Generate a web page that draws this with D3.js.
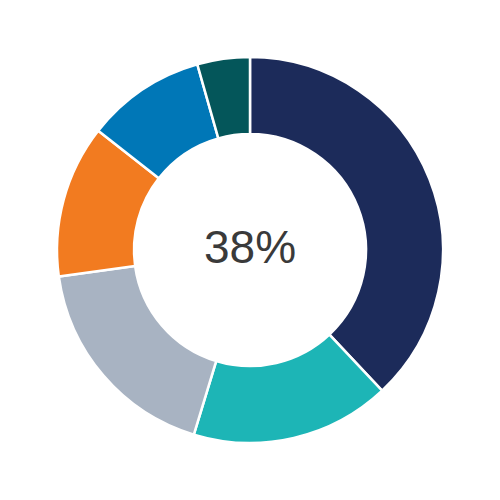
<!DOCTYPE html>
<html>
<head>
<meta charset="utf-8">
<script src="https://cdn.jsdelivr.net/npm/d3@7"></script>
<style>
  body { margin: 0; background: #fff; }
</style>
</head>
<body>
<div id="chart"></div>
<script>
var categories = ["A", "B", "C", "D", "E", "F"];
var values = [38, 16.7, 18.1, 12.8, 10, 4.4];
var colors = ["#1c2b5a", "#1db5b6", "#a8b3c2", "#f27b20", "#0077b7", "#04565a"];
var centerLabel = "38%";

var width = 500, height = 500;
var outerR = 193, innerR = 116;

var svg = d3.select("#chart")
  .append("svg")
  .attr("width", width)
  .attr("height", height);

var g = svg.append("g")
  .attr("transform", `translate(${width / 2},${height / 2})`);

var pie = d3.pie()
  .sort(null)
  .value(function(d) { return d; });

var arc = d3.arc()
  .innerRadius(innerR)
  .outerRadius(outerR);

g.selectAll("path")
  .data(pie(values))
  .enter()
  .append("path")
  .attr("d", arc)
  .attr("fill", function(d, i) { return colors[i]; })
  .attr("stroke", "#fff")
  .attr("stroke-width", 2.5);

g.append("text")
  .text(centerLabel)
  .attr("text-anchor", "middle")
  .attr("dy", "0.28em")
  .attr("font-family", "Arial, 'Liberation Sans', sans-serif")
  .attr("font-size", "46px")
  .attr("fill", "#3a3a3a");
</script>
</body>
</html>
